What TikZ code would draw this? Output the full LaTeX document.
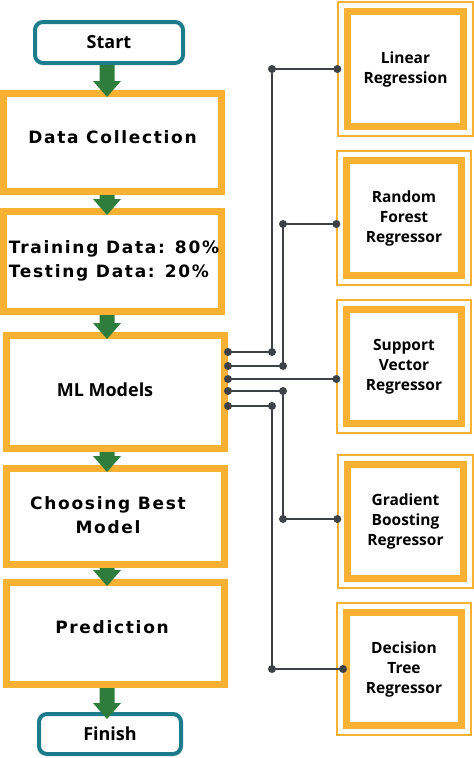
\documentclass[tikz,border=0pt]{standalone}
\usepackage{fontspec}
\usetikzlibrary{calc,fit}
\newfontfamily\vfont[LetterSpace=10]{DejaVu Sans}
\newfontfamily\sfont{Open Sans}
\definecolor{orng}{HTML}{F8B133}
\definecolor{tealc}{HTML}{1C7C8C}
\definecolor{agreen}{HTML}{2E7D3C}
\definecolor{dgrey}{HTML}{3E4246}
\tikzset{
  lbox/.style={draw=orng, line width=7pt, minimum width=218pt, inner sep=0pt, align=center,
    font=\vfont\bfseries\fontsize{17}{24}\selectfont},
  ltext/.style={inner sep=0pt, align=center, font=\vfont\bfseries\fontsize{17}{24}\selectfont},
  term/.style={draw=tealc, line width=4pt, rounded corners=8pt, inner sep=0pt,
    font=\sfont\bfseries\fontsize{18}{22}\selectfont},
  rbox/.style={draw=orng, line width=7pt, minimum width=115pt, minimum height=114pt, inner sep=0pt,
    align=center, font=\sfont\bfseries\fontsize{15.5}{20}\selectfont},
  rframe/.style={draw=orng, line width=1.3pt, inner sep=6pt},
  conn/.style={draw=dgrey, line width=1.6pt},
  dotc/.style={fill=dgrey}
}
\newcommand\garrow[2]{%
  \path[fill=agreen] let \p1=(#1.south), \p2=(#2.north) in
   (99.5pt,\y1) -- (114.5pt,\y1) -- (114.5pt,\y2+9pt) -- (121pt,\y2+9pt) -- (107pt,\y2-7pt)
   -- (93pt,\y2+9pt) -- (99.5pt,\y2+9pt) -- cycle;}
\newcommand\cdotmark[1]{\fill[dotc] (#1) circle (4pt);}
\begin{document}
\begin{tikzpicture}[x=1pt,y=-1pt]
\useasboundingbox (0,0) rectangle (474,758);
% left column
\node[term, minimum width=148pt, minimum height=41pt] (start) at (109,42.5) {Start};
\node[lbox, minimum height=98pt] (dc) at (112.5,142.5) {};
\node[ltext] (dct) at (112.5,137) {Data Collection};
\node[lbox, minimum height=100pt] (tr) at (112.5,261.5) {};
\node[ltext, align=left] (trt) at (114,261) {Training Data: 80\%\\Testing Data: 20\%};
\node[lbox, minimum height=113pt] (ml) at (115.5,392) {};
\node[font=\sfont\bfseries\fontsize{18}{22}\selectfont] (mlt) at (105,390) {ML Models};
\node[lbox, minimum height=96pt] (cb) at (115.5,516.5) {};
\node[ltext] (cbt) at (108,515) {Choosing Best\\Model};
\node[lbox, minimum height=102pt] (pr) at (115.5,633.5) {};
\node[ltext] (prt) at (112,627) {Prediction};
\node[term, minimum width=142pt, minimum height=40pt] (fin) at (110,734) {Finish};
% arrows
\garrow{start}{dc}
\garrow{dc}{tr}
\garrow{tr}{ml}
\garrow{ml}{cb}
\garrow{cb}{pr}
\garrow{pr}{fin}
% right column
\node[rbox, minimum width=116pt, minimum height=115pt] (lin) at (405.5,69) {Linear\\Regression};
\node[rbox, minimum height=115pt] (rf) at (404,218) {Random\\Forest\\Regressor};
\node[rbox] (sv) at (404,366.5) {Support\\Vector\\Regressor};
\node[rbox, minimum width=116pt] (gb) at (405.5,521.5) {Gradient\\Boosting\\Regressor};
\node[rbox, minimum height=113pt] (dt) at (404,669) {Decision\\Tree\\Regressor};
\node[rframe, fit=(lin)] (linF) {};
\node[rframe, fit=(rf)] (rfF) {};
\node[rframe, fit=(sv)] (svF) {};
\node[rframe, fit=(gb)] (gbF) {};
\node[rframe, fit=(dt)] (dtF) {};
% connectors
\coordinate (m1) at (ml.east |- 0,352);
\coordinate (m2) at (ml.east |- 0,366);
\coordinate (m3) at (ml.east |- 0,379);
\coordinate (m4) at (ml.east |- 0,391);
\coordinate (m5) at (ml.east |- 0,406);
\coordinate (b1) at (272,69);
\coordinate (b2) at (283,224);
\coordinate (b4) at (283,519);
\coordinate (b5) at (272,669);
\draw[conn] (m1) -| (b1) -- (linF.west);
\draw[conn] (m2) -| (b2) -- (b2 -| rfF.west);
\draw[conn] (m3) -- (m3 -| svF.west);
\draw[conn] (m4) -| (b4) -- (b4 -| gbF.west);
\draw[conn] (m5) -| (b5) -- (b5 -| dt.west);
\foreach \p in {m1,m2,m3,m4,m5,b1,b2,b4,b5}{\cdotmark{\p}}
\cdotmark{m1 -| b1}\cdotmark{m2 -| b2}\cdotmark{m4 -| b4}\cdotmark{m5 -| b5}
\cdotmark{linF.west}\cdotmark{b2 -| rfF.west}\cdotmark{m3 -| svF.west}\cdotmark{b4 -| gbF.west}\cdotmark{b5 -| dt.west}
\end{tikzpicture}
\end{document}
